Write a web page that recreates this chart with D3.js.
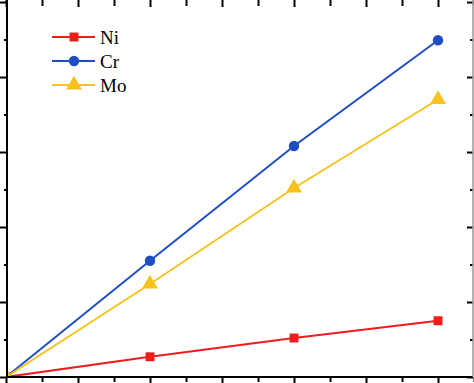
<!DOCTYPE html>
<html><head><meta charset="utf-8">
<script src="https://cdn.jsdelivr.net/npm/d3@7"></script>
<style>html,body{margin:0;padding:0;background:#fff;}svg{display:block;}</style>
</head><body>
<script>
const xValues = [0, 1, 2, 3];
const seriesNames = ["Ni", "Cr", "Mo"];
const niValues = [0, 0.27, 0.52, 0.75];
const crValues = [0, 1.55, 3.08, 4.49];
const moValues = [0, 1.24, 2.52, 3.70];
const colors = ["#f01c1c", "#1f4ec4", "#f8c21e"];
const symbolsList = [d3.symbolSquare, d3.symbolCircle, d3.symbolTriangle];

const W = 474, H = 383;
const svg = d3.select("body").append("svg").attr("width", W).attr("height", H);

const L = 7, R = 473, B = 377, T = 0;
const x = d3.scaleLinear().domain([0, 3.243]).range([6, 473]);
const y = d3.scaleLinear().domain([0, 5.027]).range([377, 0]);

svg.append("defs").append("clipPath").attr("id", "clip")
  .append("rect").attr("x", L).attr("y", T).attr("width", R - L).attr("height", B - T);

const series = [niValues, crValues, moValues];
const g = svg.append("g").attr("clip-path", "url(#clip)");
const line = d3.line().x((d, i) => x(xValues[i])).y(d => y(d));
series.forEach((vals, k) => {
  g.append("path").datum(vals).attr("d", line)
    .attr("fill", "none").attr("stroke", colors[k]).attr("stroke-width", 2);
  const sizes = [80, 85, 110];
  g.selectAll(null).data(vals).enter().append("path")
    .attr("d", d3.symbol().type(symbolsList[k]).size(sizes[k]))
    .attr("transform", (d, i) => `translate(${x(xValues[i])},${y(d)})`)
    .attr("fill", colors[k]);
});

// axes frame
const frame = svg.append("g").attr("stroke", "#000").attr("fill", "none");
// left axis
const xMajor = d3.range(0, 3.3, 0.5), xMinor = d3.range(0.25, 3.3, 0.5);
const yMajor = d3.range(0, 5.1, 1), yMinor = d3.range(0.5, 5.1, 1);

const leftAxis = d3.axisLeft(y).tickValues(yMajor).tickSize(7).tickFormat("");
const leftMinor = d3.axisLeft(y).tickValues(yMinor).tickSize(3).tickFormat("");
const bottomAxis = d3.axisBottom(x).tickValues(xMajor).tickSize(7).tickFormat("");
const bottomMinor = d3.axisBottom(x).tickValues(xMinor).tickSize(5).tickFormat("");
const topAxis = d3.axisTop(x).tickValues(xMajor).tickSize(-7).tickFormat("");
const topMinor = d3.axisTop(x).tickValues(xMinor).tickSize(-6).tickFormat("");
const rightAxis = d3.axisRight(y).tickValues(yMajor).tickSize(-6).tickFormat("");
const rightMinor = d3.axisRight(y).tickValues(yMinor).tickSize(-3).tickFormat("");

function styleAxis(sel) {
  sel.selectAll(".domain").remove();
  sel.selectAll("line").attr("stroke", "#000").attr("stroke-width", 2);
}
svg.append("g").attr("transform", `translate(${L},0)`).call(leftAxis).call(styleAxis);
svg.append("g").attr("transform", `translate(${L},0)`).call(leftMinor).call(styleAxis);
svg.append("g").attr("transform", `translate(0,${B})`).call(bottomAxis).call(styleAxis);
svg.append("g").attr("transform", `translate(0,${B})`).call(bottomMinor).call(styleAxis);
svg.append("g").attr("transform", `translate(0,${T})`).call(topAxis).call(styleAxis);
svg.append("g").attr("transform", `translate(0,${T})`).call(topMinor).call(styleAxis);
svg.append("g").attr("transform", `translate(${R},0)`).call(rightAxis).call(styleAxis);
svg.append("g").attr("transform", `translate(${R},0)`).call(rightMinor).call(styleAxis);

svg.append("line").attr("x1", L).attr("x2", L).attr("y1", 0).attr("y2", B + 1)
  .attr("stroke", "#000").attr("stroke-width", 2);
svg.append("line").attr("x1", L - 1).attr("x2", R).attr("y1", B).attr("y2", B)
  .attr("stroke", "#000").attr("stroke-width", 2);
svg.append("line").attr("x1", R).attr("x2", R).attr("y1", 0).attr("y2", B)
  .attr("stroke", "#999").attr("stroke-width", 1.5);

// legend
const leg = svg.append("g");
seriesNames.forEach((name, k) => {
  const ly = 37 + k * 24;
  leg.append("line").attr("x1", 52).attr("x2", 95).attr("y1", ly).attr("y2", ly)
    .attr("stroke", colors[k]).attr("stroke-width", 2);
  const sizes = [80, 85, 110];
  leg.append("path").attr("d", d3.symbol().type(symbolsList[k]).size(sizes[k]))
    .attr("transform", `translate(74,${ly})`).attr("fill", colors[k]);
  leg.append("text").attr("x", 100).attr("y", ly + 6.5).text(name)
    .attr("font-family", "'Liberation Serif', 'Times New Roman', serif")
    .attr("font-size", 19).attr("fill", "#000");
});
</script>
</body></html>
